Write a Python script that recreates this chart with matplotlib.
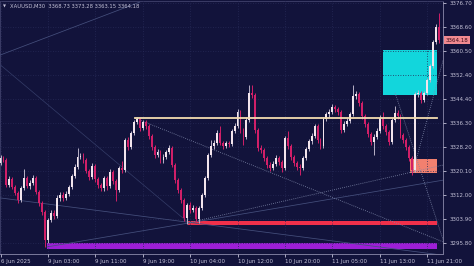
import matplotlib
matplotlib.use("Agg")
import matplotlib.pyplot as plt
import matplotlib.transforms as mtransforms
from matplotlib.patches import Rectangle

# ---------------- data ----------------
closes = [3324.5, 3323.8, 3315.4, 3317.4, 3314.7, 3312.7, 3310.3, 3314.3, 3317.7, 3315.0,
          3316.0, 3317.7, 3313.0, 3309.3, 3306.3, 3296.8, 3303.6, 3305.9, 3304.9, 3311.0,
          3312.0, 3311.0, 3312.3, 3314.7, 3318.4, 3321.4, 3324.8, 3325.1, 3323.8, 3320.1,
          3318.1, 3321.8, 3317.4, 3315.4, 3314.3, 3317.7, 3315.0, 3319.7, 3316.7, 3313.7,
          3321.1, 3320.4, 3330.5, 3328.2, 3332.9, 3336.6, 3337.6, 3334.6, 3336.6, 3335.2,
          3331.9, 3328.2, 3325.5, 3326.5, 3323.8, 3324.8, 3326.5, 3327.8, 3322.1, 3317.0,
          3313.7, 3310.3, 3304.2, 3308.6, 3306.9, 3307.6, 3303.9, 3307.6, 3312.0, 3317.7,
          3325.5, 3328.5, 3329.5, 3332.9, 3329.5, 3328.5, 3329.5, 3329.2, 3333.6, 3335.2,
          3340.0, 3333.9, 3331.5, 3337.3, 3346.4, 3345.7, 3333.9, 3327.8, 3327.1, 3324.5,
          3322.1, 3321.1, 3322.4, 3324.5, 3323.1, 3321.1, 3331.2, 3328.5, 3324.8, 3322.8,
          3321.4, 3321.1, 3324.5, 3327.5, 3330.2, 3331.9, 3335.2, 3330.5, 3328.5, 3337.6,
          3339.3, 3340.0, 3341.6, 3341.0, 3340.0, 3333.9, 3335.9, 3336.9, 3339.3, 3345.3,
          3346.0, 3343.0, 3338.6, 3335.9, 3332.5, 3329.8, 3331.5, 3333.6, 3337.9, 3335.2,
          3333.2, 3329.8, 3337.3, 3339.6, 3338.6, 3332.2, 3330.5, 3328.2, 3324.5, 3320.4,
          3346.0, 3346.4, 3344.0, 3346.4, 3350.7, 3355.5, 3363.5, 3368.73, 3364.18]

opens = [3322.8, 3324.5, 3323.8, 3315.4, 3317.4, 3314.7, 3312.7, 3310.3, 3314.3, 3317.7,
         3315.0, 3316.0, 3317.7, 3313.0, 3309.3, 3306.3, 3296.8, 3303.6, 3305.9, 3304.9,
         3311.0, 3312.0, 3311.0, 3312.3, 3314.7, 3318.4, 3321.4, 3324.8, 3325.1, 3323.8,
         3320.1, 3318.1, 3321.8, 3317.4, 3315.4, 3314.3, 3317.7, 3315.0, 3319.7, 3316.7,
         3313.7, 3321.1, 3320.4, 3330.5, 3328.2, 3332.9, 3336.6, 3337.6, 3334.6, 3336.6,
         3335.2, 3331.9, 3328.2, 3325.5, 3326.5, 3323.8, 3324.8, 3326.5, 3327.8, 3322.1,
         3317.0, 3313.7, 3310.3, 3304.2, 3308.6, 3306.9, 3307.6, 3303.9, 3307.6, 3312.0,
         3317.7, 3325.5, 3328.5, 3329.5, 3332.9, 3329.5, 3328.5, 3329.5, 3329.2, 3333.6,
         3335.2, 3340.0, 3333.9, 3331.5, 3337.3, 3346.4, 3345.7, 3333.9, 3327.8, 3327.1,
         3324.5, 3322.1, 3321.1, 3322.4, 3324.5, 3323.1, 3321.1, 3331.2, 3328.5, 3324.8,
         3322.8, 3321.4, 3321.1, 3324.5, 3327.5, 3330.2, 3331.9, 3335.2, 3330.5, 3328.5,
         3337.6, 3339.3, 3340.0, 3341.6, 3341.0, 3340.0, 3333.9, 3335.9, 3336.9, 3339.3,
         3345.3, 3346.0, 3343.0, 3338.6, 3335.9, 3332.5, 3329.8, 3331.5, 3333.6, 3337.9,
         3335.2, 3333.2, 3329.8, 3337.3, 3339.6, 3338.6, 3332.2, 3330.5, 3328.2, 3324.5,
         3320.4, 3346.0, 3346.4, 3344.0, 3346.4, 3350.7, 3355.5, 3363.5, 3368.73]

highs = [3325.6, 3325.2, 3324.6, 3318.3, 3318.0, 3315.3, 3313.2, 3315.0, 3320.8, 3318.4,
         3316.9, 3318.6, 3318.5, 3313.8, 3310.0, 3307.0, 3304.4, 3306.8, 3306.9, 3311.9,
         3313.0, 3312.9, 3313.2, 3315.5, 3319.2, 3322.3, 3328.0, 3326.2, 3326.0, 3324.5,
         3320.9, 3322.7, 3322.4, 3318.2, 3316.1, 3318.5, 3318.4, 3320.6, 3320.3, 3317.4,
         3321.9, 3323.5, 3331.3, 3331.4, 3333.7, 3337.4, 3338.3, 3338.1, 3337.4, 3337.3,
         3335.9, 3332.6, 3328.9, 3327.4, 3327.2, 3325.7, 3327.3, 3328.7, 3328.5, 3322.8,
         3317.8, 3314.4, 3311.0, 3309.4, 3309.5, 3308.5, 3308.3, 3308.4, 3312.8, 3318.5,
         3326.3, 3330.5, 3330.4, 3333.8, 3335.1, 3330.3, 3330.3, 3330.3, 3334.4, 3336.1,
         3340.9, 3340.7, 3334.7, 3338.2, 3349.1, 3348.9, 3346.5, 3334.7, 3328.8, 3327.9,
         3325.3, 3323.0, 3323.3, 3325.4, 3325.3, 3323.9, 3332.0, 3333.4, 3329.3, 3325.6,
         3323.6, 3322.3, 3325.3, 3328.3, 3331.0, 3332.8, 3336.0, 3335.9, 3331.3, 3338.4,
         3340.1, 3340.9, 3342.5, 3342.4, 3341.8, 3340.8, 3336.8, 3337.8, 3340.1, 3349.0,
         3346.9, 3346.8, 3343.8, 3339.4, 3336.7, 3333.3, 3332.4, 3334.5, 3338.8, 3339.9,
         3336.0, 3334.0, 3338.1, 3341.9, 3340.5, 3339.4, 3333.0, 3331.3, 3329.0, 3325.3,
         3346.8, 3347.3, 3347.1, 3347.2, 3351.5, 3356.3, 3364.3, 3369.6, 3373.28]

lows = [3322.0, 3323.0, 3314.6, 3314.8, 3313.9, 3311.9, 3309.3, 3309.8, 3313.8, 3314.2,
        3314.1, 3315.2, 3312.2, 3308.4, 3305.3, 3294.6, 3295.9, 3302.9, 3303.8, 3304.2,
        3310.1, 3310.0, 3310.4, 3311.6, 3314.0, 3317.7, 3320.8, 3324.0, 3322.9, 3319.3,
        3317.2, 3317.5, 3316.5, 3314.5, 3313.4, 3313.5, 3313.8, 3314.3, 3315.8, 3310.1,
        3313.0, 3319.5, 3319.8, 3327.3, 3327.5, 3332.2, 3335.8, 3333.7, 3333.9, 3334.3,
        3331.0, 3327.3, 3324.6, 3324.7, 3322.9, 3322.9, 3324.0, 3325.8, 3321.3, 3316.1,
        3312.8, 3309.4, 3303.2, 3302.3, 3306.0, 3306.1, 3303.0, 3302.5, 3306.9, 3311.3,
        3317.0, 3324.8, 3327.6, 3328.8, 3328.7, 3327.6, 3327.8, 3328.3, 3328.5, 3332.9,
        3334.5, 3333.0, 3329.0, 3330.8, 3336.6, 3344.8, 3333.0, 3326.9, 3326.2, 3323.6,
        3321.2, 3320.2, 3320.3, 3321.7, 3322.2, 3319.9, 3320.4, 3327.6, 3323.9, 3321.9,
        3320.4, 3318.6, 3320.3, 3323.8, 3326.8, 3329.3, 3331.2, 3329.6, 3327.6, 3327.8,
        3336.9, 3338.4, 3339.2, 3340.1, 3339.1, 3333.0, 3333.2, 3335.1, 3336.2, 3338.6,
        3344.5, 3342.1, 3337.7, 3335.0, 3331.6, 3328.9, 3325.6, 3330.8, 3332.9, 3334.3,
        3332.3, 3328.9, 3329.1, 3336.6, 3337.7, 3331.3, 3329.6, 3327.3, 3323.6, 3318.7,
        3319.6, 3345.1, 3343.1, 3343.3, 3345.7, 3350.0, 3354.8, 3362.8, 3363.15]

tick_bars = [0, 16, 32, 48, 64, 80, 96, 112, 128, 144]
tick_labels = ["6 Jun 2025", "9 Jun 03:00", "9 Jun 11:00", "9 Jun 19:00", "10 Jun 04:00",
               "10 Jun 12:00", "10 Jun 20:00", "11 Jun 05:00", "11 Jun 13:00", "11 Jun 21:00"]
price_ticks = [3376.70, 3368.60, 3360.50, 3352.40, 3344.40, 3336.30, 3328.20,
               3320.10, 3312.00, 3303.90, 3295.80]
price_tick_labels = ["3376.70", "3368.60", "3360.50", "3352.40", "3344.40", "3336.30",
                     "3328.20", "3320.10", "3312.00", "3303.90", "3295.80"]
last_price = 3364.18
header = "XAUUSD,M30  3368.73 3373.28 3363.15 3364.18"

# zones: (start bar, end bar, low price, high price)
zone_purple = (15.7, 147.3, 3293.8, 3295.9)
zone_red = (63.2, 147.3, 3301.9, 3303.3)
zone_salmon = (138.2, 147.3, 3319.4, 3324.1)
zone_cyan = (129.1, 147.3, 3345.7, 3360.9)
level_line = (45.4, 147.3, 3337.9)

# trend lines: ((bar, price), (bar, price))
trend_solid = [((0.0, 3359.2), (47.0, 3377.0)),
               ((0.0, 3311.0), (149.4, 3291.7)),
               ((15.7, 3294.5), (149.4, 3317.0))]
trend_faint = [((0.0, 3355.8), (63.5, 3302.6))]
trend_dotted = [((45.4, 3337.9), (149.4, 3296.2)),
                ((63.2, 3302.6), (149.4, 3322.1)),
                ((133.2, 3346.4), (149.4, 3296.8)),
                ((139.2, 3319.7), (149.4, 3357.5))]

# ---------------- style ----------------
BG = "#12133b"
GRID = "#272957"
BULL = "#f2e4ec"
BEAR = "#d11f68"
TXT = "#c4c2d8"

fig = plt.figure(figsize=(4.74, 2.66), dpi=100)
fig.patch.set_facecolor(BG)
ax = fig.add_axes([0.0, 12 / 266, 443 / 474, 253 / 266])
ax.set_facecolor(BG)
ax.set_xlim(-0.17, 149.35)
ax.set_ylim(3292.11, 3377.37)

# zones
for (x0, x1, lo, hi), col in [(zone_purple, "#9d1fd6"), (zone_red, "#f0304a"),
                              (zone_salmon, "#f2806f"), (zone_cyan, "#12d6dc")]:
    ax.add_patch(Rectangle((x0, lo), x1 - x0, hi - lo, facecolor=col,
                           edgecolor="none", zorder=1))

# grid
ax.set_axisbelow(False)
ax.set_xticks(tick_bars)
ax.set_yticks(price_ticks)
ax.grid(True, color=GRID, linestyle=(0, (1, 2)), linewidth=0.6)

# trend lines
for (p0, p1) in trend_solid:
    ax.plot([p0[0], p1[0]], [p0[1], p1[1]], color="#454f7c", lw=0.55, zorder=2.6)
for (p0, p1) in trend_faint:
    ax.plot([p0[0], p1[0]], [p0[1], p1[1]], color="#343c68", lw=0.5, zorder=2.6)
for (p0, p1) in trend_dotted:
    ax.plot([p0[0], p1[0]], [p0[1], p1[1]], color="#7f88aa", lw=0.6,
            linestyle=(0, (1, 1.5)), zorder=2.6)

# candles
idx = list(range(len(closes)))
for i in idx:
    o, h, l, c = opens[i], highs[i], lows[i], closes[i]
    col = BULL if c >= o else BEAR
    wick = "#b9b2c8" if c >= o else BEAR
    ax.vlines(i, l, h, color=wick, lw=0.7, zorder=3)
    body = max(abs(c - o), 0.25)
    ax.bar(i, body, bottom=min(o, c), width=0.64, color=col, edgecolor="none",
           linewidth=0, zorder=3.5)

# level line
ax.plot([level_line[0], level_line[1]], [level_line[2], level_line[2]],
        color="#f3dcb0", lw=1.3, zorder=4)

# axes styling
ax.yaxis.tick_right()
ax.set_yticklabels(price_tick_labels)
ax.set_xticklabels(tick_labels, ha="left")
ax.tick_params(axis="y", colors=TXT, labelsize=4.0, length=2, width=0.6, pad=3,
               labelcolor=TXT)
ax.tick_params(axis="x", colors=TXT, labelsize=4.0, length=2, width=0.6, pad=1.5,
               labelcolor=TXT)
for s in ["right", "bottom"]:
    ax.spines[s].set_color("#7b7a9c")
    ax.spines[s].set_linewidth(0.7)
for s in ["top", "left"]:
    ax.spines[s].set_color("#3b3c66")
    ax.spines[s].set_linewidth(0.7)

# current price label
trans = mtransforms.blended_transform_factory(ax.transAxes, ax.transData)
ax.text(1.006, last_price, "%.2f" % last_price, transform=trans, fontsize=4.0,
        color="#3a0a18", va="center", ha="left",
        bbox=dict(boxstyle="square,pad=0.25", fc="#f08a90", ec="none"), zorder=6,
        clip_on=False)

# header
ax.text(0.006, 0.988, "\u25BC", transform=ax.transAxes, fontsize=2.8, color=TXT,
        va="top", ha="left")
ax.text(0.022, 0.99, header, transform=ax.transAxes, fontsize=3.8, color=TXT,
        va="top", ha="left")

fig.savefig("out.png", dpi=100, facecolor=BG)
